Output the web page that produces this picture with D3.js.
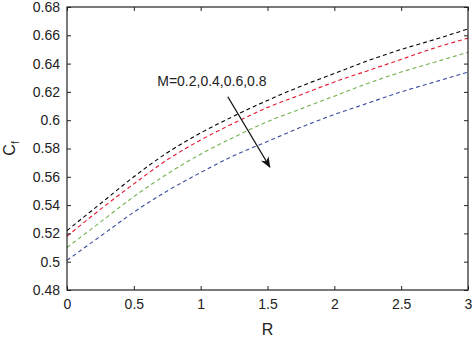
<!DOCTYPE html>
<html><head><meta charset="utf-8">
<script src="https://cdn.jsdelivr.net/npm/d3@7"></script>
<style>body{margin:0;background:#fff}svg{display:block}</style>
</head><body>
<script>
const R = [0,0.25,0.5,0.75,1,1.25,1.5,1.75,2,2.25,2.5,2.75,3];
const cfM02 = [0.522,0.541,0.560,0.577,0.591,0.603,0.614,0.624,0.633,0.642,0.650,0.657,0.6645];
const cfM04 = [0.518,0.537,0.555,0.572,0.586,0.598,0.609,0.618,0.627,0.635,0.643,0.651,0.658];
const cfM06 = [0.510,0.528,0.546,0.562,0.576,0.588,0.599,0.608,0.617,0.626,0.634,0.641,0.648];
const cfM08 = [0.501,0.518,0.535,0.550,0.563,0.575,0.585,0.595,0.604,0.612,0.620,0.627,0.634];
const seriesColors = ["#000000","#e3162e","#72b24f","#3d4c9e"];
const xTicks = [0,0.5,1,1.5,2,2.5,3];
const yTicks = [0.48,0.5,0.52,0.54,0.56,0.58,0.6,0.62,0.64,0.66,0.68];
const annotation = "M=0.2,0.4,0.6,0.8";

const W=474,H=338, m={l:67,r:6,t:7,b:48};
const svg=d3.select("body").append("svg").attr("width",W).attr("height",H);
const x=d3.scaleLinear().domain([0,3]).range([m.l,W-m.r]);
const y=d3.scaleLinear().domain([0.48,0.68]).range([H-m.b,m.t]);
const font="'Liberation Sans', Arial, Helvetica, sans-serif";

svg.append("defs").append("marker").attr("id","ah").attr("viewBox","0 0 10 10")
  .attr("refX",9).attr("refY",5).attr("markerWidth",11).attr("markerHeight",11)
  .attr("orient","auto").attr("markerUnits","userSpaceOnUse")
  .append("path").attr("d","M0,1 L10,5 L0,9 L3,5 Z").attr("fill","#111");

const series=[cfM02,cfM04,cfM06,cfM08];
const line=d3.line().x(d=>x(d[0])).y(d=>y(d[1])).curve(d3.curveMonotoneX);
series.forEach((s,i)=>{
  svg.append("path").datum(R.map((r,j)=>[r,s[j]])).attr("d",line)
    .attr("fill","none").attr("stroke",seriesColors[i]).attr("stroke-width",1.1)
    .attr("stroke-dasharray","4,3");
});

const fmt=d=>String(+d.toFixed(2));
const ax=(g)=>{g.selectAll("text").attr("font-family",font).attr("font-size",14).attr("fill","#222");
  g.select(".domain").remove(); g.selectAll("line").attr("stroke","#222");};
svg.append("g").attr("transform",`translate(0,${H-m.b})`)
  .call(d3.axisBottom(x).tickValues(xTicks).tickFormat(fmt).tickSizeInner(-4).tickSizeOuter(0).tickPadding(9)).call(ax);
svg.append("g").attr("transform",`translate(${m.l},0)`)
  .call(d3.axisLeft(y).tickValues(yTicks).tickFormat(fmt).tickSizeInner(-4).tickSizeOuter(0).tickPadding(7)).call(ax);
svg.append("g").attr("transform",`translate(0,${m.t})`)
  .call(d3.axisTop(x).tickValues(xTicks).tickFormat("").tickSizeInner(-4).tickSizeOuter(0)).call(ax);
svg.append("g").attr("transform",`translate(${W-m.r},0)`)
  .call(d3.axisRight(y).tickValues(yTicks).tickFormat("").tickSizeInner(-4).tickSizeOuter(0)).call(ax);
svg.append("rect").attr("x",m.l).attr("y",m.t).attr("width",W-m.l-m.r).attr("height",H-m.t-m.b)
  .attr("fill","none").attr("stroke","#222").attr("stroke-width",1.2);

svg.append("text").attr("x",(m.l+W-m.r)/2).attr("y",335).attr("text-anchor","middle")
  .attr("font-family",font).attr("font-size",16).attr("fill","#222").text("R");
const yl=svg.append("text").attr("transform",`translate(15,${(m.t+H-m.b)/2}) rotate(-90)`)
  .attr("text-anchor","middle").attr("font-family",font).attr("font-size",16).attr("fill","#222");
yl.append("tspan").text("C");
yl.append("tspan").attr("font-size",10).attr("dy",4).text("f");

svg.append("text").attr("x",x(0.675)).attr("y",y(0.6242)).attr("font-family",font).attr("font-size",14)
  .attr("fill","#222").text(annotation);
svg.append("line").attr("x1",x(1.203)).attr("y1",y(0.6166)).attr("x2",x(1.517)).attr("y2",y(0.5669))
  .attr("stroke","#111").attr("stroke-width",1.3).attr("marker-end","url(#ah)");
</script>
</body></html>
